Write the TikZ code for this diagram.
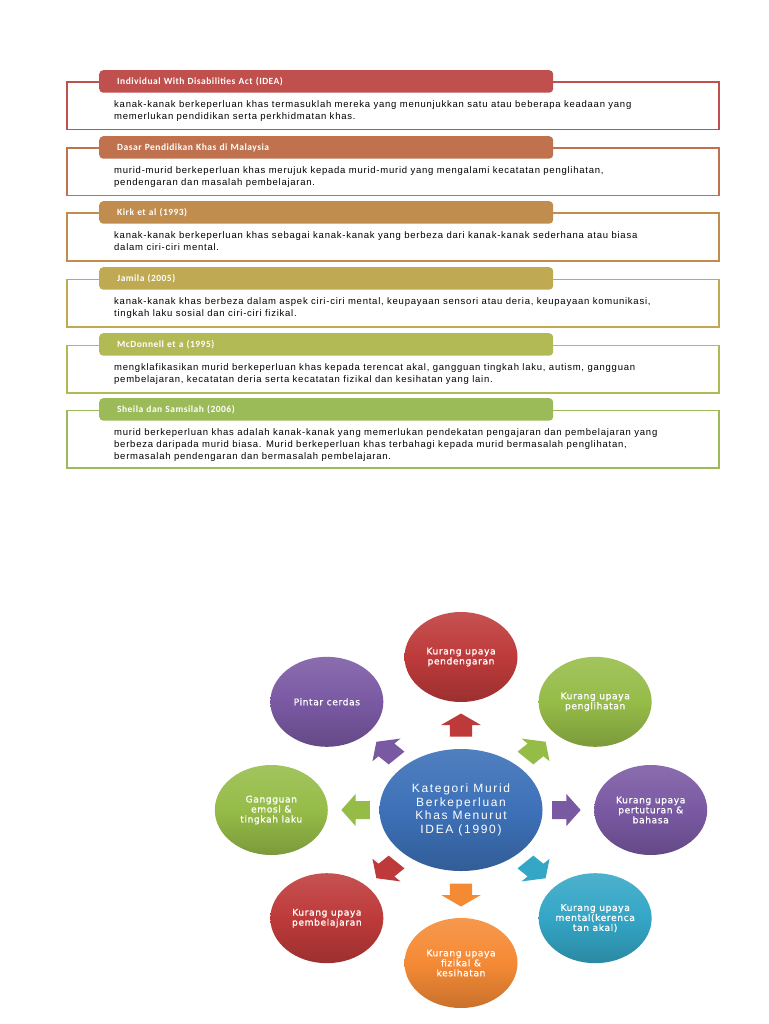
\documentclass[tikz,border=0pt]{standalone}
\usepackage{fontspec}
\setmainfont{Liberation Sans}
\newfontfamily\bodyfont[LetterSpace=8]{Liberation Sans}
\newfontfamily\headfont[LetterSpace=5]{Carlito}
\newfontfamily\circfont[LetterSpace=6,FakeBold=0.8]{DejaVu Sans}
\newfontfamily\centfont[LetterSpace=14]{Liberation Sans}
\usetikzlibrary{shapes.geometric}
\definecolor{l1}{HTML}{C0504D}
\definecolor{l2}{HTML}{C0714D}
\definecolor{l3}{HTML}{C08D4F}
\definecolor{l4}{HTML}{BFA952}
\definecolor{l5}{HTML}{B2BA56}
\definecolor{l6}{HTML}{9BBB59}
\definecolor{cred}{HTML}{BE3A3A}
\definecolor{cgreen}{HTML}{96BC48}
\definecolor{cpurple}{HTML}{7A59A3}
\definecolor{cteal}{HTML}{34A6C6}
\definecolor{corange}{HTML}{F58A35}
\definecolor{cblue}{HTML}{3D71B8}
\newcommand\blkarrow[3]{\fill[#3, shift={(#1)}, xscale=1.24, rotate=#2]
  (-11.5,-9) -- (0,-9) -- (0,-16) -- (11.5,0) -- (0,16) -- (0,9) -- (-11.5,9) -- cycle;}
\tikzset{
  framebox/.style={draw=#1, line width=1.5pt, fill=white, anchor=north west,
    minimum width=652pt, minimum height=47.5pt, inner sep=0pt},
  hdr/.style={fill=#1, rounded corners=4pt, anchor=north west, minimum height=22.5pt,
    text width=418pt, inner xsep=18pt, inner ysep=0pt, align=left, text=white,
    font=\headfont\bfseries\fontsize{9.5}{11}\selectfont},
  txt/.style={anchor=north west, inner sep=0pt, align=left,
    font=\bodyfont\fontsize{9.5}{12}\selectfont},
  circ/.style={ellipse, minimum width=113pt, minimum height=90pt, inner sep=0pt,
    top color=#1!88!white, bottom color=#1!82!black, middle color=#1, draw=none, text=white, align=center,
    font=\circfont\fontsize{9.2}{10}\selectfont},
  centre/.style={ellipse, minimum width=163pt, minimum height=122pt, inner sep=0pt,
    top color=cblue!90!white, bottom color=cblue!82!black, middle color=cblue, text=white, align=center,
    font=\centfont\fontsize{12}{13.5}\selectfont}
}
\begin{document}
\begin{tikzpicture}[x=1pt,y=-1pt]
\fill[white] (0,0) rectangle (768,1024);
\useasboundingbox (0,0) rectangle (768,1024);
% ---------- list ----------
\foreach \T/\c/\n/\h/\t in {
 70/l1/1/{Individual With Disabilities Act (IDEA)}/{kanak-kanak berkeperluan khas termasuklah mereka yang menunjukkan satu atau beberapa keadaan yang\\memerlukan pendidikan serta perkhidmatan khas.},
 136/l2/2/{Dasar Pendidikan Khas di Malaysia}/{murid-murid berkeperluan khas merujuk kepada murid-murid yang mengalami kecatatan penglihatan,\\pendengaran dan masalah pembelajaran.},
 201/l3/3/{Kirk et al (1993)}/{kanak-kanak berkeperluan khas sebagai kanak-kanak yang berbeza dari kanak-kanak sederhana atau biasa\\dalam ciri-ciri mental.},
 267/l4/4/{Jamila (2005)}/{kanak-kanak khas berbeza dalam aspek ciri-ciri mental, keupayaan sensori atau deria, keupayaan komunikasi,\\tingkah laku sosial dan ciri-ciri fizikal.},
 333/l5/5/{McDonnell et a (1995)}/{mengklafikasikan murid berkeperluan khas kepada terencat akal, gangguan tingkah laku, autism, gangguan\\pembelajaran, kecatatan deria serta kecatatan fizikal dan kesihatan yang lain.}}
{
  \node[framebox=\c] (b\n) at (66,\T+11.5) {};
  \node[hdr=\c] (h\n) at (99,\T) {\h};
  \node[txt] (t\n) at (114,\T+30) {\t};
}
\node[framebox=l6, minimum height=57.5pt] (b6) at (66,409.5) {};
\node[hdr=l6] (h6) at (99,398) {Sheila dan Samsilah (2006)};
\node[txt] (t6) at (114,428) {murid berkeperluan khas adalah kanak-kanak yang memerlukan pendekatan pengajaran dan pembelajaran yang\\berbeza daripada murid biasa. Murid berkeperluan khas terbahagi kepada murid bermasalah penglihatan,\\bermasalah pendengaran dan bermasalah pembelajaran.};
% ---------- radial diagram ----------
\node[centre] (ctr) at (461,810) {Kategori Murid\\Berkeperluan\\Khas Menurut\\IDEA (1990)};
\foreach \a/\c/\n/\t in {
 90/cred/top/{Kurang upaya\\pendengaran},
 45/cgreen/ur/{Kurang upaya\\penglihatan},
 0/cpurple/r/{Kurang upaya\\pertuturan \&\\bahasa},
 -45/cteal/lr/{Kurang upaya\\mental(kerenca\\tan akal)},
 -90/corange/b/{Kurang upaya\\fizikal \&\\kesihatan},
 -135/cred/ll/{Kurang upaya\\pembelajaran},
 180/cgreen/l/{Gangguan\\emosi \&\\tingkah laku},
 135/cpurple/ul/{Pintar cerdas}}
{
  \node[circ=\c] (c\n) at ({461+1.24*153*cos(\a)},{810-153*sin(\a)}) {\t};
  \coordinate (a\n) at ({461+1.24*85*cos(\a)},{810-85*sin(\a)});
  \blkarrow{a\n}{\a}{\c}
}
\end{tikzpicture}
\end{document}
